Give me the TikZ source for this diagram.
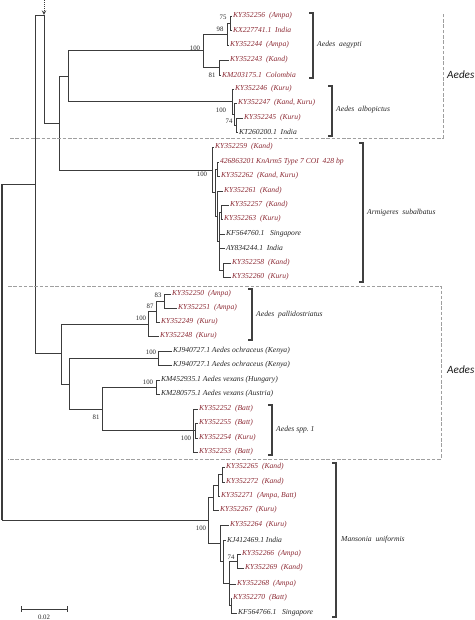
\documentclass[tikz,border=0pt]{standalone}
\usepackage{fontspec}
\setmainfont{Liberation Serif}
\newfontfamily\groupfont{Carlito}
\usepackage{tikz}
\usetikzlibrary{
  arrows.meta,
  calc
}
\definecolor{leafred}{RGB}{140,42,52}
\definecolor{treegray}{RGB}{60,60,60}
\newcommand{\leaffont}{\itshape\fontsize{6.5}{7}\selectfont}
\newcommand{\bootfont}{\fontsize{5.8}{6}\selectfont}
\tikzset{>=stealth}
\tikzset{
  branch/.style={draw=treegray, line width=0.75pt},
  leafr/.style={anchor=west, inner xsep=0.7pt, inner ysep=0pt, text=leafred, font=\leaffont},
  leafk/.style={leafr, text=black!85},
  boot/.style={inner sep=0pt, text=black!85, font=\bootfont},
  clade/.style={anchor=west, inner sep=0pt, text=black!85, font=\leaffont},
  bracket/.style={draw=black!75, line width=1.2pt},
  groupbox/.style={draw=gray!75, line width=0.7pt, dash pattern=on 3pt off 1.5pt},
  genus/.style={anchor=west, inner sep=0pt, text=black!90, font=\groupfont\itshape\fontsize{9.5}{10}\selectfont}
}

\begin{document}
\begin{tikzpicture}[x=0.03cm, y=-0.03cm]
  \useasboundingbox (0,0) rectangle (474,620);
  % internal nodes
  \coordinate (R) at (2,352);
  \coordinate (N1) at (35,184);
  \coordinate (cut) at (44,0);
  \coordinate (N2) at (44,15);
  \coordinate (N3) at (59,123);
  \coordinate (N4) at (68,76);
  \coordinate (A1) at (203,50.5);
  \coordinate (A2) at (227,34);
  \coordinate (A4) at (230,23);
  \coordinate (A3) at (219,67.5);
  \coordinate (B1) at (232,101.5);
  \coordinate (Bb) at (234,114);
  \coordinate (B2) at (236,125);
  \coordinate (C1) at (212,170);
  \coordinate (C2) at (215,192.5);
  \coordinate (C3) at (217,169);
  \coordinate (C4) at (217,216);
  \coordinate (C5) at (219,241);
  \coordinate (C6) at (221,212);
  \coordinate (C7) at (223,270);
  \coordinate (D0) at (61,353.5);
  \coordinate (P1) at (148,324);
  \coordinate (P2) at (156,311.5);
  \coordinate (P3) at (164,301);
  \coordinate (D1) at (69,384);
  \coordinate (O) at (158,358);
  \coordinate (D2) at (102,409.5);
  \coordinate (V) at (156,387);
  \coordinate (S) at (193,430.5);
  \coordinate (S2) at (195,430.5);
  \coordinate (M1) at (208,520);
  \coordinate (M2) at (213,497.5);
  \coordinate (M3) at (218,485);
  \coordinate (M4) at (222,474.5);
  \coordinate (M5) at (220,543);
  \coordinate (M6) at (223,561.5);
  \coordinate (M7) at (229,583);
  \coordinate (M8) at (237,561);
  \coordinate (M9) at (231,605.5);

  % leaves
  \node[leafr] (aeg1) at (232,16) {KY352256\ \ (Ampa)};
  \node[leafr] (aeg2) at (232,30) {KX227741.1\ \ India};
  \node[leafr] (aeg3) at (229,45) {KY352244\ \ (Ampa)};
  \node[leafr] (aeg4) at (229,60) {KY352243\ \ (Kand)};
  \node[leafr] (aeg5) at (221,75) {KM203175.1\ \ Colombia};
  \node[leafr] (alb1) at (234,89) {KY352246\ \ (Kuru)};
  \node[leafr] (alb2) at (237,103) {KY352247\ \ (Kand,\ Kuru)};
  \node[leafr] (alb3) at (243,118) {KY352245\ \ (Kuru)};
  \node[leafk] (alb4) at (238,132) {KT260200.1\ \ India};
  \node[leafr] (arm1) at (214,147) {KY352259\ \ (Kand)};
  \node[leafr] (arm2) at (219,162) {426863201 KnArm5 Type 7 COI\ \ 428 bp};
  \node[leafr] (arm3) at (220,176) {KY352262\ \ (Kand,\ Kuru)};
  \node[leafr] (arm4) at (223,191) {KY352261\ \ (Kand)};
  \node[leafr] (arm5) at (229,205) {KY352257\ \ (Kand)};
  \node[leafr] (arm6) at (223,219) {KY352263\ \ (Kuru)};
  \node[leafk] (arm7) at (225,234) {KF564760.1\ \ \ Singapore};
  \node[leafk] (arm8) at (225,248) {AY834244.1\ \ India};
  \node[leafr] (arm9) at (231,263) {KY352258\ \ (Kand)};
  \node[leafr] (arm10) at (231,277) {KY352260\ \ (Kuru)};
  \node[leafr] (pal1) at (171,294) {KY352250\ \ (Ampa)};
  \node[leafr] (pal2) at (177,308) {KY352251\ \ (Ampa)};
  \node[leafr] (pal3) at (160,322) {KY352249\ \ (Kuru)};
  \node[leafr] (pal4) at (159,336) {KY352248\ \ (Kuru)};
  \node[leafk] (och1) at (172,351) {KJ940727.1 Aedes ochraceus (Kenya)};
  \node[leafk] (och2) at (172,365) {KJ940727.1 Aedes ochraceus (Kenya)};
  \node[leafk] (vex1) at (160,380) {KM452935.1 Aedes vexans (Hungary)};
  \node[leafk] (vex2) at (160,394) {KM280575.1 Aedes vexans (Austria)};
  \node[leafr] (spp1) at (198,409) {KY352252\ \ (Batt)};
  \node[leafr] (spp2) at (198,423) {KY352255\ \ (Batt)};
  \node[leafr] (spp3) at (198,438) {KY352254\ \ (Kuru)};
  \node[leafr] (spp4) at (198,452) {KY352253\ \ (Batt)};
  \node[leafr] (man1) at (225,467) {KY352265\ \ (Kand)};
  \node[leafr] (man2) at (225,482) {KY352272\ \ (Kand)};
  \node[leafr] (man3) at (220,496) {KY352271\ \ (Ampa,\ Batt)};
  \node[leafr] (man4) at (219,510) {KY352267\ \ (Kuru)};
  \node[leafr] (man5) at (229,525) {KY352264\ \ (Kuru)};
  \node[leafk] (man6) at (226,540) {KJ412469.1 India};
  \node[leafr] (man7) at (241,554) {KY352266\ \ (Ampa)};
  \node[leafr] (man8) at (244,568) {KY352269\ \ (Kand)};
  \node[leafr] (man9) at (236,584) {KY352268\ \ (Ampa)};
  \node[leafr] (man10) at (232,598) {KY352270\ \ (Batt)};
  \node[leafk] (man11) at (237,613) {KF564766.1\ \ \ Singapore};

  % branches
  \draw[branch, line width=1.8pt] (R |- N1) -- (R |- M1);
  \draw[branch, densely dotted, ->] (cut) -- (N2);
  \foreach \p/\c in {R/N1, R/M1, N1/N2, N1/D0, N2/N3, N3/N4, N3/C1, N4/A1, N4/B1,
      A1/A2, A1/A3, A2/A4, A2/aeg3, A4/aeg1, A4/aeg2, A3/aeg4, A3/aeg5,
      B1/alb1, B1/Bb, Bb/alb2, Bb/B2, B2/alb3, B2/alb4,
      C1/arm1, C1/C2, C2/C3, C2/C4, C3/arm2, C3/arm3, C4/arm4, C4/C5,
      C5/C6, C5/arm7, C5/arm8, C5/C7, C6/arm5, C6/arm6, C7/arm9, C7/arm10,
      D0/P1, D0/D1, P1/P2, P1/pal4, P2/P3, P2/pal3, P3/pal1, P3/pal2,
      D1/O, D1/D2, O/och1, O/och2, D2/V, D2/S, V/vex1, V/vex2,
      S/spp1, S/S2, S/spp4, S2/spp2, S2/spp3,
      M1/M2, M1/M5, M2/M3, M2/man4, M3/M4, M3/man3, M4/man1, M4/man2,
      M5/man5, M5/M6, M6/man6, M6/M7, M7/M8, M7/man9, M7/M9,
      M8/man7, M8/man8, M9/man10, M9/man11}
    \draw[branch] (\p) |- (\c);

  % bootstrap values
  \node[boot] (b1) at (223,17) {75};
  \node[boot] (b2) at (220,29) {98};
  \node[boot] (b3) at (195,48) {100};
  \node[boot] (b4) at (212,75) {81};
  \node[boot] (b5) at (221,110) {100};
  \node[boot] (b6) at (229,121) {74};
  \node[boot] (b7) at (202,174) {100};
  \node[boot] (b8) at (158,295) {83};
  \node[boot] (b9) at (150,306) {87};
  \node[boot] (b10) at (141,318) {100};
  \node[boot] (b11) at (151,352) {100};
  \node[boot] (b12) at (148,382) {100};
  \node[boot] (b13) at (96,417) {81};
  \node[boot] (b14) at (186,438) {100};
  \node[boot] (b15) at (201,528) {100};
  \node[boot] (b16) at (231,557) {74};

  % groups
  \draw[groupbox] (10,138) -- (443,138) -- (443,13);
  \draw[groupbox] (8,286) -- (441,286) -- (441,459) -- (8,459);
  \node[genus] (g1) at (447,75) {Aedes};
  \node[genus] (g2) at (447,370) {Aedes};

  % clades
  \draw[bracket] (309,13) -- (313,13) -- (313,78) -- (309,78);
  \draw[bracket] (328,86) -- (332,86) -- (332,136) -- (328,136);
  \draw[bracket] (359,143) -- (363,143) -- (363,282) -- (359,282);
  \draw[bracket] (248,289) -- (252,289) -- (252,340) -- (248,340);
  \draw[bracket] (268,405) -- (272,405) -- (272,455) -- (268,455);
  \draw[bracket] (332,463) -- (336,463) -- (336,617) -- (332,617);
  \node[clade] (c1) at (317,45) {Aedes\ \ aegypti};
  \node[clade] (c2) at (336,110) {Aedes\ \ albopictus};
  \node[clade] (c3) at (367,213) {Armigeres\ \ subalbatus};
  \node[clade] (c4) at (256,315) {Aedes\ \ pallidostriatus};
  \node[clade] (c5) at (276,430) {Aedes\ spp.\ 1};
  \node[clade] (c6) at (341,540) {Mansonia\ \ uniformis};

  % scale
  \coordinate (s1) at (21,609);
  \coordinate (s2) at (67,609);
  \draw[branch] (s1) -- (s2);
  \draw[branch] ($(s1)+(0,-3)$) -- ($(s1)+(0,3)$);
  \draw[branch] ($(s2)+(0,-3)$) -- ($(s2)+(0,3)$);
  \node[boot] (sc) at (44,617) {0.02};
\end{tikzpicture}
\end{document}
